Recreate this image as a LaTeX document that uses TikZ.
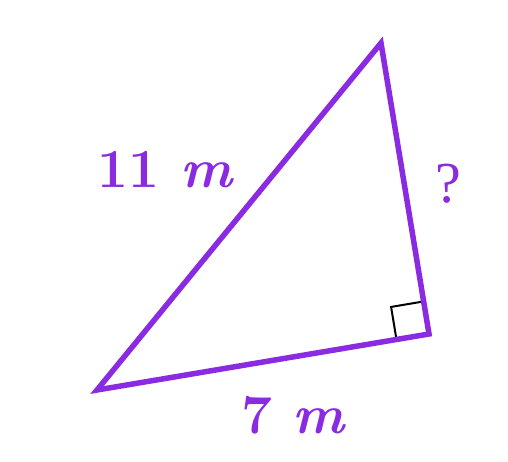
\documentclass[tikz,border=0pt]{standalone}
\usepackage{fontspec}
\newfontfamily\qfont{Liberation Serif}
\usetikzlibrary{calc}
\definecolor{vio}{HTML}{8A2BE2}
\begin{document}
\begin{tikzpicture}[x=1pt,y=-1pt,
  side/.style={draw=vio,line width=5.5pt,line join=miter},
  lab/.style={text=vio,inner sep=0pt,anchor=base},
  rmark/.style={draw=black,line width=2pt}]
\useasboundingbox (0,0) rectangle (508,462);
\coordinate (A) at (381,43);
\coordinate (B) at (429,334);
\coordinate (C) at (97,390);
\coordinate (P) at ($(B)!33pt!(A)$);
\coordinate (Q) at ($(B)!33pt!(C)$);
\coordinate (R) at ($(P)+(Q)-(B)$);
\draw[rmark] (P) -- (R) -- (Q);
\draw[side] (A) -- (B) -- (C) -- cycle;
\node[lab] (l11) at (165,188) {\fontsize{55}{60}\selectfont\bfseries 11 \itshape m};
\node[lab] (lq) at (448,203) {\qfont\fontsize{58}{62}\selectfont ?};
\node[lab] (l7) at (293,433) {\fontsize{55}{60}\selectfont\bfseries 7 \itshape m};
\end{tikzpicture}
\end{document}
